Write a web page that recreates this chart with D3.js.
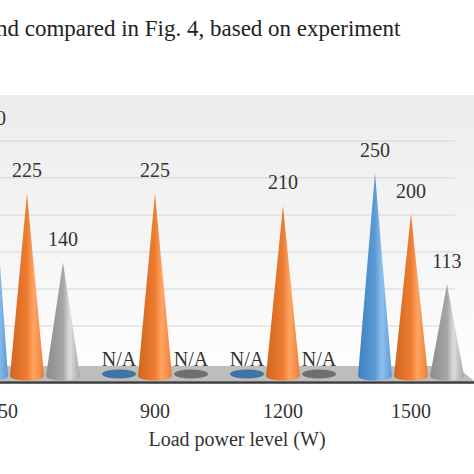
<!DOCTYPE html>
<html><head><meta charset="utf-8">
<script src="https://cdn.jsdelivr.net/npm/d3@7"></script>
<style>body{margin:0;background:#fff}svg{display:block}</style>
</head><body><svg id="c" width="474" height="474"></svg>
<script>
const categories = ["750","900","1200","1500"];
const series = ["S1","S2","S3"];
const values = [
  [290, 225, 140],
  [null, 225, null],
  [null, 210, null],
  [250, 200, 113]
];
const gridValues = [50, 100, 150, 200, 250, 300];
const colors = ["#5b9bd5", "#ed7d31", "#a5a5a5"];
const dark = ["#3f7fc0", "#d0661f", "#8c8c8c"];
const light = ["#8fc0ee", "#ffa565", "#dedede"];

const svg = d3.select("#c");
const defs = svg.append("defs");
const bg = defs.append("linearGradient").attr("id","bg").attr("x1",0).attr("y1",0).attr("x2",0).attr("y2",1);
bg.append("stop").attr("offset","0%").attr("stop-color","#ececec");
bg.append("stop").attr("offset","100%").attr("stop-color","#ffffff");
series.forEach((s,i)=>{
  const g = defs.append("linearGradient").attr("id","g"+i).attr("x1",0).attr("x2",1).attr("y1",0).attr("y2",0);
  g.append("stop").attr("offset","0%").attr("stop-color",dark[i]);
  g.append("stop").attr("offset","50%").attr("stop-color",colors[i]);
  g.append("stop").attr("offset","70%").attr("stop-color",light[i]);
  g.append("stop").attr("offset","100%").attr("stop-color",colors[i]);
});

const serif = s=>s.style("font-family","Liberation Serif").attr("fill","#222");
svg.append("text").attr("x",-4).attr("y",36).call(serif).style("font-size","23px")
  .text("nd compared in Fig. 4, based on experiment");

svg.append("rect").attr("x",0).attr("y",95).attr("width",474).attr("height",300).attr("fill","url(#bg)");

const y = d3.scaleLinear().domain([0,250]).range([376,173]);
const yWall = d3.scaleLinear().domain([50,300]).range([326,141]);
svg.append("g").selectAll("line").data(gridValues).join("line")
  .attr("x1",0).attr("x2",455).attr("y1",d=>yWall(d)).attr("y2",d=>yWall(d))
  .attr("stroke","#d6d6d6").attr("stroke-width",1.2);

svg.append("path").attr("d","M0,366 L456,366 L474,381 L0,381 Z").attr("fill","#bdbdbd");
svg.append("line").attr("x1",0).attr("x2",474).attr("y1",382.5).attr("y2",382.5).attr("stroke","#3a3a3a").attr("stroke-width",2.5);

const x = d3.scalePoint().domain(categories).range([27,411]);
const off = d3.scalePoint().domain(series).range([-36,36]);
const hw = 17, ry = 4.5;
const font = s=>s.call(serif).style("font-size","20px").attr("fill","#333");

categories.forEach((c,ci)=>{
  series.forEach((s,si)=>{
    const v = values[ci][si];
    const cx = x(c)+off(s);
    const base = y(0);
    if (v==null){
      svg.append("ellipse").attr("cx",cx).attr("cy",base-2).attr("rx",hw).attr("ry",ry)
        .attr("fill", si===0 ? "#3f74a8" : "#6f6f6f");
      svg.append("text").attr("x",cx).attr("y",base-10).attr("text-anchor","middle").call(font).text("N/A");
      return;
    }
    const top = y(v);
    svg.append("path")
      .attr("d",`M${cx-hw},${base} L${cx},${top} L${cx+hw},${base} A${hw},${ry} 0 0 1 ${cx-hw},${base} Z`)
      .attr("fill",`url(#g${si})`);
    svg.append("text").attr("x",cx).attr("y",top-16).attr("text-anchor","middle").call(font).text(v);
  });
});

svg.append("g").selectAll("text").data(categories).join("text")
  .attr("x",(d,i)=>i===0 ? x(d)-24 : x(d)).attr("y",418).attr("text-anchor","middle").call(font).text(d=>d);
svg.append("text").attr("x",237).attr("y",446).attr("text-anchor","middle").call(font).text("Load power level (W)");
</script></body></html>
